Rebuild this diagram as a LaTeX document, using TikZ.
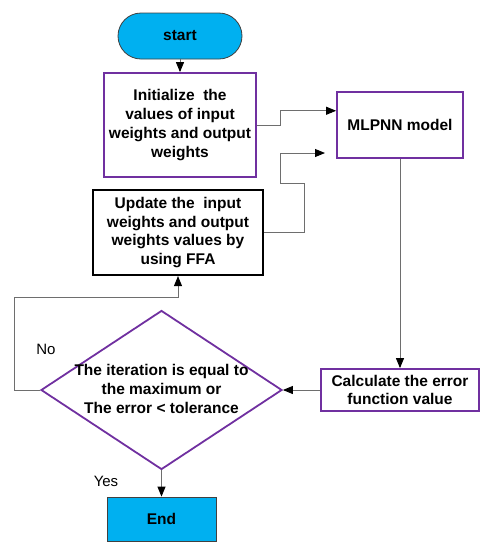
\documentclass[tikz,border=0pt]{standalone}
\usepackage{fontspec}
\setmainfont{Liberation Sans}
\usetikzlibrary{arrows.meta, positioning, calc, shapes.geometric}
\definecolor{CCyan}{HTML}{00B0F0}
\definecolor{CPurple}{HTML}{7030A0}
\definecolor{CGrayLine}{HTML}{6E6E6E}
\definecolor{CGrayDark}{HTML}{404040}

\tikzset{
  stepfont/.style={font=\fontsize{15.5}{18.8}\selectfont\bfseries, align=center},
  stepbox/.style={stepfont, draw=CPurple, line width=1.8pt, inner sep=0pt},
  link/.style={draw=CGrayLine, line width=0.9pt,
    -{Triangle[length=10pt, width=8pt, color=black]}},
}

\begin{document}
\begin{tikzpicture}[x=1pt, y=-1pt]
  \useasboundingbox (0,0) rectangle (490,550);

  % =====================================================================
  % 1. TERMINALS
  % =====================================================================
  \node[stepfont, draw=CGrayDark, line width=0.8pt, fill=CCyan, rounded corners=23pt,
        minimum width=124pt, minimum height=46pt] (start) at (180,36) {start};
  \node[stepfont, draw=CGrayDark, line width=0.8pt, fill=CCyan,
        minimum width=109pt, minimum height=44pt] (end) at (161.5,519) {End};

  % =====================================================================
  % 2. PROCESS BOXES
  % =====================================================================
  \node[stepbox, minimum width=152pt, minimum height=104pt] (init) at (180,125)
    {Initialize\ \ the\\values of input\\weights and output\\weights};
  \node[stepbox, minimum width=126pt, minimum height=66pt] (mlp) at (400,125)
    {MLPNN model};
  \node[stepbox, draw=black, line width=2.2pt, minimum width=170pt, minimum height=85pt]
    (update) at (178,232.5)
    {Update the\ \ input\\weights and output\\weights values by\\using FFA};
  \node[stepbox, minimum width=158pt, minimum height=42pt] (calc) at (400,390)
    {Calculate the error\\function value};

  % =====================================================================
  % 3. DECISION
  % =====================================================================
  \node[diamond, draw=CPurple, line width=1.8pt, inner sep=0pt,
        minimum width=241pt, minimum height=159pt] (check) at (161.5,390) {};
  \node[stepfont] (checktext) at (161.5,389)
    {The iteration is equal to\\the maximum or\\The error < tolerance};

  % =====================================================================
  % 4. CONNECTORS
  % =====================================================================
  \coordinate (mlpin) at (325,153);
  \draw[link] (start) -- (init);
  \draw[link] (init.east) -- ++(24,0) |- ($(mlp.north west)!0.29!(mlp.south west)$);
  \draw[link] (update.east) -- ++(40,0) -- ++(0,-49.5) -- ++(-24,0) |- (mlpin);
  \draw[link] (mlp) -- (calc);
  \draw[link] (calc) -- (check);
  \draw[link] (check.west) -- ++(-26,0) |- ($(update.south)+(0,21)$) -- (update.south);
  \draw[link] (check) -- (end);

  % Branch labels
  \node[font=\fontsize{15}{18}\selectfont] (nolabel) at (46,349) {No};
  \node[font=\fontsize{15}{18}\selectfont] (yeslabel) at (106,481) {Yes};

\end{tikzpicture}
\end{document}
